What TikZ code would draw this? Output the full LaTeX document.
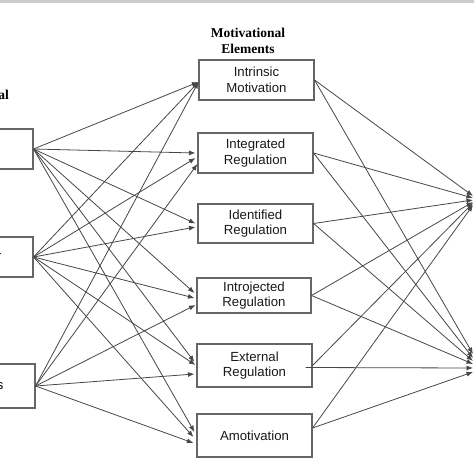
\documentclass[tikz,border=0pt]{standalone}
\usepackage{fontspec}
\setmainfont{Liberation Serif}
\setsansfont{Liberation Sans}
\usetikzlibrary{arrows.meta}

\begin{document}
\begin{tikzpicture}[x=1pt,y=-1pt,
    box/.style={draw=black!60,line width=1.1pt,minimum width=115pt,minimum height=40pt,
      inner sep=0pt,align=center,text=black!90,font=\sffamily\fontsize{13.2}{15.5}\selectfont},
    head/.style={font=\bfseries\fontsize{13.5}{16}\selectfont,align=center},
    link/.style={draw=black!72,line width=0.8pt,-{Latex[length=6.5pt,width=5pt]}}]
  \useasboundingbox (0,0) rectangle (474,474);
  \fill[black!20] (0,0) rectangle (474,2.5);
  % headings
  \node[head] (headmid) at (248,41) {Motivational\\Elements};
  \node[head,anchor=east,inner sep=0pt] (headleft) at (9,95) {al};
  % left boxes (cut by the page edge)
  \node[box,minimum width=93pt] (l1) at (-13.5,149) {};
  \node[box,minimum width=93pt] (l2) at (-13.5,257) {};
  \node[box,minimum width=95pt,minimum height=44pt] (l3) at (-12.5,386) {};
  \node[anchor=east,inner sep=0pt,font=\sffamily\fontsize{13}{15.5}\selectfont] (l2txt) at (1.5,257) {r};
  \node[anchor=east,inner sep=0pt,font=\sffamily\fontsize{13}{15.5}\selectfont] (l3txt) at (3.5,386) {s};
  % motivational elements
  \node[box] (intr) at (256.5,80) {Intrinsic\\Motivation};
  \node[box] (integ) at (255.5,153) {Integrated\\Regulation};
  \node[box,minimum height=39pt] (ident) at (255.5,223.5) {Identified\\Regulation};
  \node[box,minimum width=114pt,minimum height=35pt] (introj) at (254,295.5) {Introjected\\Regulation};
  \node[box,minimum height=43pt] (ext) at (254.5,365.5) {External\\Regulation};
  \node[box,minimum height=43pt] (amot) at (254.5,435.5) {Amotivation};
  % right boxes lie beyond the page edge
  \coordinate (r1) at (473,200);
  \coordinate (r2) at (473,364);
  % left -> middle
  \draw[link] (l1.east) -- ([yshift=-2pt]intr.west);
  \draw[link] (l1.east) -- ([xshift=-2pt]integ.west);
  \draw[link] (l1.east) -- ([xshift=-2pt]ident.west);
  \draw[link] (l1.east) -- ([xshift=-2pt,yshift=2.5pt]introj.west);
  \draw[link] (l1.east) -- ([xshift=-2pt,yshift=3.5pt]ext.west);
  \draw[link] (l1.east) -- ([xshift=-2pt,yshift=3.5pt]amot.west);
  \draw[link] (l2.east) -- ([yshift=-2pt]intr.west);
  \draw[link] (l2.east) -- ([xshift=-2pt,yshift=-5pt]integ.west);
  \draw[link] (l2.east) -- ([xshift=-2pt,yshift=-3.5pt]ident.west);
  \draw[link] (l2.east) -- ([xshift=-2pt,yshift=-2.5pt]introj.west);
  \draw[link] (l2.east) -- ([xshift=-1pt,yshift=0.5pt]ext.west);
  \draw[link] (l2.east) -- ([xshift=-3pt,yshift=-1.5pt]amot.west);
  \draw[link] (l3.east) -- ([yshift=-2pt]intr.west);
  \draw[link] (l3.east) -- ([yshift=-11pt]integ.west);
  \draw[link] (l3.east) -- ([xshift=-1pt,yshift=-9.5pt]introj.west);
  \draw[link] (l3.east) -- ([xshift=-2pt,yshift=-8.5pt]ext.west);
  \draw[link] (l3.east) -- ([xshift=-3pt,yshift=-7.5pt]amot.west);
  % middle -> right
  \draw[link] (intr.east) -- ([yshift=4pt]r1);
  \draw[link] (intr.east) -- ([yshift=10pt]r2);
  \draw[link] (integ.east) -- ([yshift=2pt]r1);
  \draw[link] (integ.east) -- ([yshift=6pt]r2);
  \draw[link] (ident.east) -- (r1);
  \draw[link] (ident.east) -- ([yshift=3pt]r2);
  \draw[link] (introj.east) -- ([yshift=-2pt]r1);
  \draw[link] (introj.east) -- (r2);
  \draw[link] (ext.east) -- ([yshift=-3pt]r1);
  \draw[link] ([xshift=-7pt,yshift=-2pt]ext.east) -- ([yshift=-4pt]r2);
  \draw[link] ([yshift=7.5pt]amot.east) -- ([yshift=-5pt]r1);
  \draw[link] ([yshift=7.5pt]amot.east) -- ([yshift=-8pt]r2);
\end{tikzpicture}
\end{document}
